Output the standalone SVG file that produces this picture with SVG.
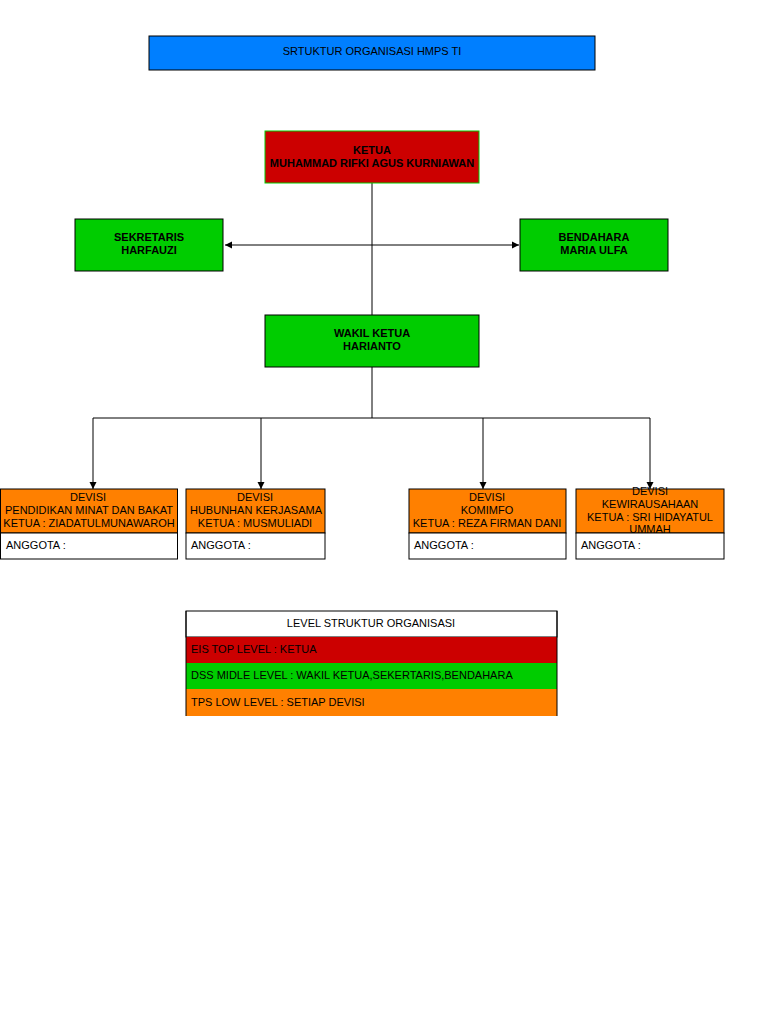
<svg xmlns="http://www.w3.org/2000/svg" width="768" height="1024" viewBox="0 0 768 1024">
<style>
text{font-family:"Liberation Sans",Arial,sans-serif;font-size:11px;fill:#000}
.c{text-anchor:middle}
.b{font-weight:bold}
.k{stroke:#000;stroke-width:1}
.ln{stroke:#000;stroke-width:1;fill:none}
</style>
<defs><marker id="a" markerWidth="8" markerHeight="8" refX="7" refY="4" orient="auto" markerUnits="userSpaceOnUse"><path d="M0,0.5 L7,4 L0,7.5 Z" fill="#000"/></marker></defs>
<rect width="768" height="1024" fill="#fff"/>
<g id="title"><rect x="149" y="36" width="446" height="34" fill="#007fff" class="k"/><text x="372" y="55" class="c">SRTUKTUR ORGANISASI HMPS TI</text></g>
<g id="connectors">
<path class="ln" d="M372,183 V315"/>
<path class="ln" d="M264,245 H225" marker-end="url(#a)"/>
<path class="ln" d="M264,245 H519" marker-end="url(#a)"/>
<path class="ln" d="M372,367 V418 M93,418 H650"/>
<path class="ln" d="M93,418 V489" marker-end="url(#a)"/>
<path class="ln" d="M261,418 V489" marker-end="url(#a)"/>
<path class="ln" d="M483,418 V489" marker-end="url(#a)"/>
<path class="ln" d="M650,418 V489" marker-end="url(#a)"/>
</g>
<g id="ketua"><rect x="265" y="131" width="214" height="52" fill="#cc0000" stroke="#00cc00"/><text x="372" y="154" class="c b">KETUA</text><text x="372" y="167" class="c b">MUHAMMAD RIFKI AGUS KURNIAWAN</text></g>
<g id="sekretaris"><rect x="75" y="219" width="148" height="52" fill="#00cc00" class="k"/><text x="149" y="241" class="c b">SEKRETARIS</text><text x="149" y="254" class="c b">HARFAUZI</text></g>
<g id="bendahara"><rect x="520" y="219" width="148" height="52" fill="#00cc00" class="k"/><text x="594" y="241" class="c b">BENDAHARA</text><text x="594" y="254" class="c b">MARIA ULFA</text></g>
<g id="wakil"><rect x="265" y="315" width="214" height="52" fill="#00cc00" class="k"/><text x="372" y="337" class="c b">WAKIL KETUA</text><text x="372" y="350" class="c b">HARIANTO</text></g>
<g id="dev1"><rect x="0.5" y="489" width="177" height="44" fill="#ff8000" class="k"/><rect x="0.5" y="533" width="177" height="26" fill="#fff" class="k"/><text x="88" y="501" class="c">DEVISI</text><text x="89" y="514" class="c">PENDIDIKAN MINAT DAN BAKAT</text><text x="89" y="527" class="c">KETUA : ZIADATULMUNAWAROH</text><text x="6" y="549">ANGGOTA  :</text></g>
<g id="dev2"><rect x="186" y="489" width="139" height="44" fill="#ff8000" class="k"/><rect x="186" y="533" width="139" height="26" fill="#fff" class="k"/><text x="255" y="501" class="c">DEVISI</text><text x="256" y="514" class="c">HUBUNHAN KERJASAMA</text><text x="255" y="527" class="c">KETUA : MUSMULIADI</text><text x="191" y="549">ANGGOTA :</text></g>
<g id="dev3"><rect x="409" y="489" width="157" height="44" fill="#ff8000" class="k"/><rect x="409" y="533" width="157" height="26" fill="#fff" class="k"/><text x="487" y="501" class="c">DEVISI</text><text x="487" y="514" class="c">KOMIMFO</text><text x="487" y="527" class="c">KETUA : REZA FIRMAN DANI</text><text x="414" y="549">ANGGOTA :</text></g>
<g id="dev4"><rect x="576" y="489" width="148" height="44" fill="#ff8000" class="k"/><rect x="576" y="533" width="148" height="26" fill="#fff" class="k"/><text x="650" y="495" class="c">DEVISI</text><text x="650" y="508" class="c">KEWIRAUSAHAAN</text><text x="650" y="521" class="c">KETUA : SRI HIDAYATUL</text><text x="650" y="533" class="c">UMMAH</text><text x="581" y="549">ANGGOTA :</text></g>
<g id="legend">
<rect x="186" y="611" width="371" height="26" fill="#fff" class="k"/><text x="371" y="627" class="c">LEVEL STRUKTUR ORGANISASI</text>
<rect x="186" y="637" width="371" height="26" fill="#cc0000"/><text x="191" y="653">EIS TOP LEVEL : KETUA</text>
<rect x="186" y="663" width="371" height="26" fill="#00cc00"/><text x="191" y="679">DSS MIDLE LEVEL : WAKIL KETUA,SEKERTARIS,BENDAHARA</text>
<rect x="186" y="689" width="371" height="27" fill="#ff8000"/><text x="191" y="706">TPS LOW LEVEL : SETIAP DEVISI</text>
<path class="ln" d="M186,611 V716 M557,611 V716"/>
</g>
</svg>
